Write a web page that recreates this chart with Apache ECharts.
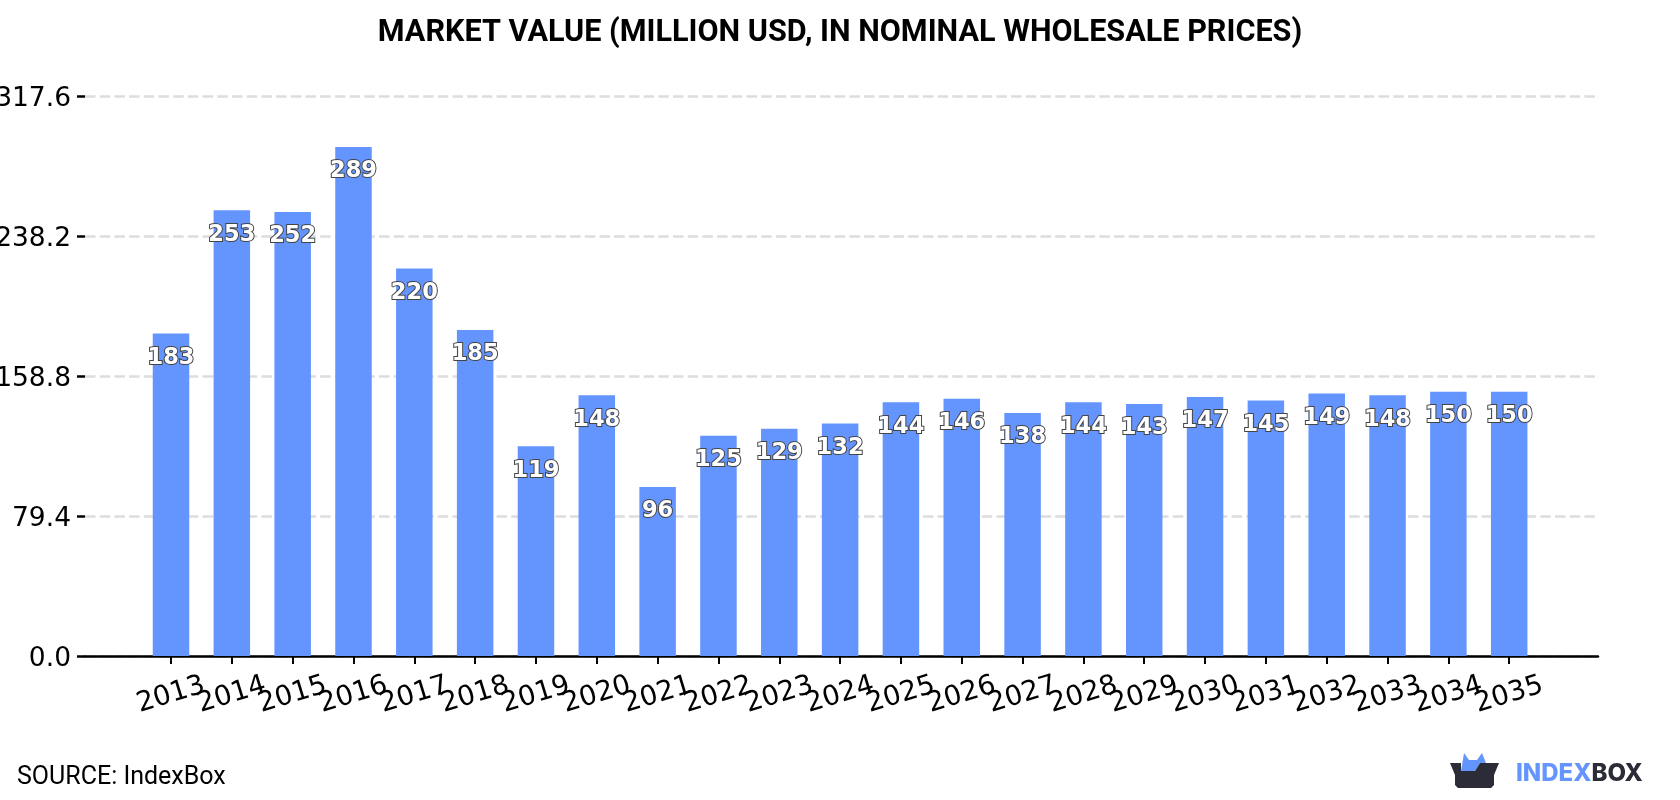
<!DOCTYPE html>
<html>
<head>
<meta charset="utf-8">
<style>html,body{margin:0;padding:0;background:#fff}#chart{width:1680px;height:800px}</style>
<script src="https://cdn.jsdelivr.net/npm/echarts@6/dist/echarts.min.js"></script>
</head>
<body>
<div id="chart"></div>
<script>
const years = [2013,2014,2015,2016,2017,2018,2019,2020,2021,2022,2023,2024,2025,2026,2027,2028,2029,2030,2031,2032,2033,2034,2035];
const marketValue = [183,253,252,289,220,185,119,148,96,125,129,132,144,146,138,144,143,147,145,149,148,150,150];
const yTicks = [0,79.4,158.8,238.2,317.6];

const chart = echarts.init(document.getElementById('chart'));
const tickFont = '"DejaVu Sans", sans-serif';
const dark = '#2b2c38', blue = '#6495ff';
const xMin = 2011.586, xMax = 2036.46;

chart.setOption({
  animation: false,
  backgroundColor: '#fff',
  title: {
    text: 'MARKET VALUE (MILLION USD, IN NOMINAL WHOLESALE PRICES)',
    left: 'center', top: 13,
    textStyle: { fontFamily: 'Roboto', fontWeight: 'bold', fontSize: 30.6, color: '#000' }
  },
  grid: { left: 85, right: 82, top: 96.5, bottom: 144, containLabel: false, outerBoundsMode: 'none' },
  xAxis: {
    type: 'value',
    min: xMin, max: xMax,
    splitLine: { show: false },
    axisLine: { show: true, lineStyle: { color: '#000', width: 2.5 } },
    axisTick: { show: true, customValues: years, length: 8, lineStyle: { color: '#000', width: 2 } },
    axisLabel: {
      // blank end entries keep the axis from dropping the neighbours of the first and last year
      customValues: [xMin, ...years, xMax], rotate: 17, margin: 39,
      align: 'center', verticalAlign: 'middle',
      showMinLabel: true, showMaxLabel: true, hideOverlap: false,
      fontFamily: tickFont, fontSize: 27.5, color: '#000',
      formatter: v => years.includes(v) ? String(v) : ''
    }
  },
  yAxis: {
    type: 'value',
    min: 0, max: 317.6, interval: 79.4,
    axisLine: { show: false },
    axisTick: { show: true, length: 8, lineStyle: { color: '#000', width: 2.5 } },
    axisLabel: { fontFamily: tickFont, fontSize: 26.5, color: '#000', margin: 14,
      verticalAlign: 'top', lineHeight: 6,
      formatter: v => yTicks.includes(+v.toFixed(1)) ? v.toFixed(1) : '' },
    splitLine: { show: true, lineStyle: { color: '#dddddd', width: 2.5, type: [10.5, 4.2] } }
  },
  series: [{
    type: 'bar',
    barWidth: 36.5,
    data: years.map((y, i) => [y, marketValue[i]]),
    itemStyle: { color: blue },
    label: {
      show: true, position: 'insideTop', distance: 13,
      formatter: p => String(p.value[1]),
      fontFamily: tickFont, fontWeight: 'bold', fontSize: 22.5,
      color: '#fff', textBorderColor: '#444', textBorderWidth: 2
    }
  }],
  graphic: [
    { type: 'text', left: 17, top: 765,
      style: { text: 'SOURCE: IndexBox', fontFamily: 'Roboto', fontSize: 25, fill: '#000' } },
    { type: 'polygon', shape: { points: [[1461,771],[1464,753],[1469,760],[1477,760],[1482,753],[1486,763],[1480,763],[1475,771]] },
      style: { fill: blue } },
    { type: 'polygon', shape: { points: [[1450,763],[1461,763],[1461,771],[1475,771],[1480,763],[1499,763],[1494,775],[1494,785],[1491,788],[1458,788],[1455,785],[1455,775]] },
      style: { fill: dark } },
    { type: 'text', left: 1516, top: 762,
      style: { rich: { a: { fill: blue, fontFamily: 'Inter', fontWeight: 800, fontSize: 24 }, b: { fill: dark, fontFamily: 'Inter', fontWeight: 800, fontSize: 24 } },
        text: '{a|INDEX}{b|BOX}' } }
  ]
});
</script>
</body>
</html>
